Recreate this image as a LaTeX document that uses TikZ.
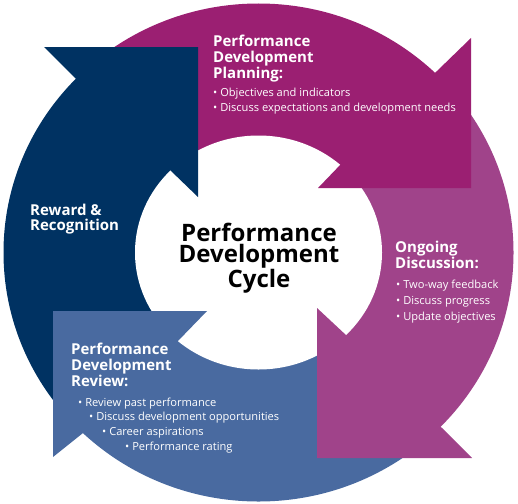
\documentclass[tikz,border=0pt]{standalone}
\usepackage{fontspec}
\setmainfont{Open Sans}
\definecolor{navyc}{RGB}{0,50,98}
\definecolor{magc}{RGB}{155,31,114}
\definecolor{pinkc}{RGB}{160,67,138}
\definecolor{lbluec}{RGB}{73,106,160}
\tikzset{
  hd/.style={font=\fontsize{15}{15}\selectfont\bfseries, text=white, anchor=base west, inner sep=0pt},
  bl/.style={font=\fontsize{11.1}{11}\selectfont, text=white, anchor=base west, inner sep=0pt},
  ct/.style={font=\fontsize{24}{21.3}\selectfont\bfseries, text=black, align=center, anchor=north, inner sep=0pt}
}
\begin{document}
\begin{tikzpicture}[x=1pt,y=-1pt]
\useasboundingbox (0,0) rectangle (518,503);
\coordinate (C) at (258.5,252.5);
% ring sectors
\begin{scope}
  \clip (C) ellipse [x radius=255pt, y radius=249pt];
  \fill[pinkc]  (C) -- (658.5,-47.5) -- (558.5,652.5) -- cycle;
  \fill[lbluec] (C) -- (558.5,652.5) -- (-141.5,552.5) -- cycle;
  \fill[navyc]  (C) -- (-141.5,552.5) -- (-41.5,-147.5) -- cycle;
  \fill[magc]   (C) -- (-41.5,-147.5) -- (658.5,-47.5) -- cycle;
\end{scope}
\fill[white] (C) ellipse [x radius=123.5pt, y radius=117pt];
% arrow heads
\fill[magc] (437,71) -- (471,38) -- (471,188) -- (318,188) -- (342,163) -- cycle;
\fill[pinkc] (317,308) -- (347,336) -- (442,428) -- (472,458) -- (317,458) -- cycle;
\fill[lbluec] (207,311) -- (177,342) -- (83,433) -- (53,457) -- (53,311) -- cycle;
\fill[navyc] (198,47) -- (198,197) -- (170,170) -- (75,78) -- (44,47) -- cycle;
% centre
\node[ct] (cycle) at (259,222.5) {Performance\\Development\\Cycle};
% planning
\node[hd] (pl1) at (213,46.5) {Performance};
\node[hd] (pl2) at (213,62.2) {Development};
\node[hd] (pl3) at (213,78) {Planning:};
\node[bl] (pb1) at (213,96.5) {•~Objectives and indicators};
\node[bl] (pb2) at (213,111.5) {•~Discuss expectations and development needs};
% reward
\node[hd] (rw1) at (30,215) {Reward \&};
\node[hd] (rw2) at (30,230.5) {Recognition};
% ongoing
\node[hd] (od1) at (395,252.5) {Ongoing};
\node[hd] (od2) at (395,268.3) {Discussion:};
\node[bl] (ob1) at (396,288.3) {•~Two-way feedback};
\node[bl] (ob2) at (396,304.3) {•~Discuss progress};
\node[bl] (ob3) at (396,320) {•~Update objectives};
% review
\node[hd] (rv1) at (71,354) {Performance};
\node[hd] (rv2) at (71,370) {Development};
\node[hd] (rv3) at (71,386) {Review:};
\node[bl] (rb1) at (78,406.5) {•~Review past performance};
\node[bl] (rb2) at (89,420.7) {•~Discuss development opportunities};
\node[bl] (rb3) at (102,435.5) {•~Career aspirations};
\node[bl] (rb4) at (125,450) {•~Performance rating};
\end{tikzpicture}
\end{document}
